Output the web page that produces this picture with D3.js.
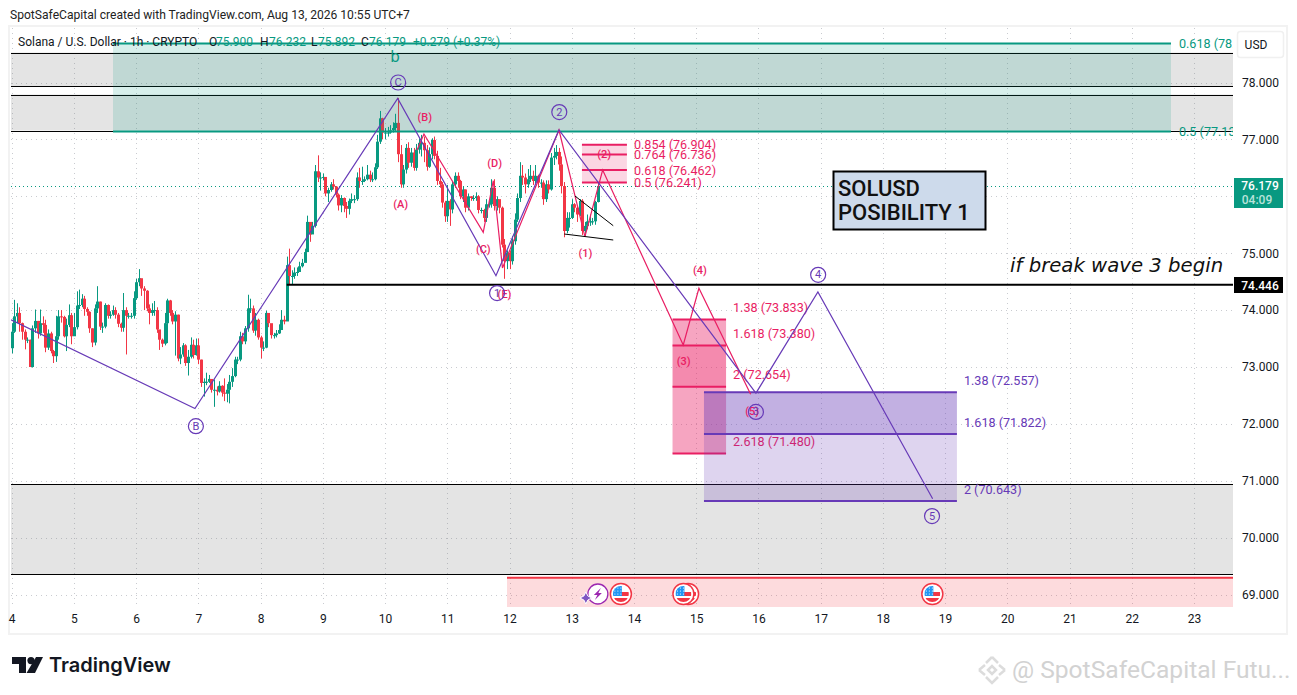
<!DOCTYPE html>
<html>
<head>
<meta charset="utf-8">
<script src="https://cdn.jsdelivr.net/npm/d3@7"></script>
<style>
  html, body { margin: 0; background: #fff; }
  text { font-family: Roboto, sans-serif; }
  .axis text { fill: #131722; font-size: 12px; font-family: Roboto, sans-serif; }
</style>
</head>
<body>
<div id="chart"></div>
<script>
// tick labels
var dayTicks = [4, 5, 6, 7, 8, 9, 10, 11, 12, 13, 14, 15, 16, 17, 18, 19, 20, 21, 22, 23];
var priceGrid = [69, 70, 71, 72, 73, 74, 75, 76, 77, 78];
var priceTicks = [69, 70, 71, 72, 73, 74, 75, 77, 78];

// hourly candles, one row per day. open = previous close
var firstOpen = 73.33;
var closes = [
  73.62,73.89,73.95,73.77,73.62,73.48,73.48,73.00,73.68,73.81,73.59,73.77,73.74,73.34,73.59,73.28,73.19,73.54,73.89,73.88,73.54,73.74,73.91,73.54,
  73.70,74.08,74.09,74.20,74.02,73.97,73.68,73.43,74.03,74.15,73.71,73.71,74.09,73.90,73.92,74.00,73.92,73.76,73.69,74.00,73.90,73.90,73.90,74.21,
  74.49,74.56,74.38,74.34,74.03,73.95,74.00,74.00,73.66,73.48,73.41,73.77,74.17,73.95,73.80,73.92,73.15,73.22,73.38,73.07,73.18,73.39,73.21,73.38,
  73.13,72.72,72.74,72.74,72.79,72.60,72.60,72.57,72.67,72.55,72.53,72.60,72.74,72.84,73.13,73.13,73.54,73.45,73.68,74.03,74.03,73.64,73.83,73.52,
  73.34,73.34,73.95,73.77,73.56,73.56,73.59,73.65,73.83,73.80,74.79,74.60,74.60,74.66,74.67,74.77,74.83,75.02,75.55,75.33,75.48,76.44,76.33,76.33,
  76.34,76.05,76.11,76.21,76.17,76.03,75.84,75.97,75.83,75.78,75.92,75.95,75.95,76.33,76.27,76.27,76.30,76.38,76.30,76.30,76.51,76.96,77.37,77.12,
  77.12,77.12,77.16,77.20,77.29,76.74,76.21,76.47,76.85,76.59,76.77,76.50,76.82,76.94,76.94,76.81,76.52,76.74,76.99,76.71,76.27,76.21,75.89,75.65,
  75.92,75.77,76.21,76.36,76.27,76.00,76.12,75.80,76.00,75.97,75.97,76.00,75.76,75.76,75.62,75.86,75.86,76.15,75.83,75.95,75.80,75.15,74.86,75.01,
  74.86,75.21,75.59,75.97,76.36,76.33,76.21,76.30,76.36,76.27,76.36,76.24,76.24,75.95,76.21,76.12,76.68,76.71,76.78,76.56,76.18,75.39,75.62,75.62,
  75.86,75.80,75.68,75.92,75.39,75.48,75.56,75.56,75.56,75.90,76.179
];
var highs = [
  73.77,74.18,74.12,74.05,73.78,73.66,73.52,73.48,73.73,74.01,73.81,74.01,73.89,73.83,73.66,73.62,73.30,73.90,74.00,74.00,73.90,73.85,74.10,73.95,
  73.95,74.33,74.36,74.28,74.25,74.05,73.98,73.68,74.10,74.42,74.15,73.78,74.12,74.10,73.98,74.08,74.05,73.95,73.78,74.30,74.05,73.95,73.95,74.33,
  74.55,74.72,74.55,74.42,74.35,74.10,74.12,74.16,74.05,73.62,73.50,73.95,74.20,74.18,74.00,73.98,73.92,73.35,73.42,73.40,73.30,73.52,73.48,73.50,
  73.50,73.13,72.80,72.90,72.86,72.78,72.78,72.66,72.75,72.68,72.80,72.70,72.86,72.98,73.18,73.18,73.62,73.60,73.72,74.27,74.20,74.08,73.95,73.85,
  73.55,73.45,73.99,73.90,73.75,73.60,73.65,73.75,74.00,73.90,74.94,75.08,74.70,74.75,74.75,74.85,74.90,75.08,75.66,75.45,75.55,76.55,76.72,76.42,
  76.40,76.33,76.15,76.25,76.30,76.18,76.05,76.02,75.98,75.90,75.96,76.05,76.02,76.42,76.50,76.52,76.35,76.55,76.45,76.42,76.58,77.08,77.50,77.38,
  77.20,77.22,77.25,77.30,77.45,77.73,76.90,76.55,76.92,76.95,76.85,76.85,76.92,77.02,77.08,77.05,76.90,76.86,77.02,77.05,76.80,76.50,76.25,75.92,
  76.20,75.95,76.27,76.42,76.42,76.29,76.18,76.12,76.05,76.00,76.02,76.07,76.02,75.80,75.78,75.95,75.92,76.30,76.30,76.00,75.90,75.82,75.25,75.05,
  75.05,75.30,75.70,76.05,76.60,76.55,76.40,76.48,76.55,76.45,76.55,76.38,76.30,76.28,76.28,76.28,76.76,76.85,76.90,76.85,76.70,76.25,75.72,75.72,
  75.95,75.88,75.82,75.95,75.95,75.55,75.68,75.68,75.62,75.92,76.232
];
var lows = [
  73.24,73.60,73.77,73.62,73.48,73.31,73.42,73.00,72.99,73.60,73.50,73.55,73.60,73.26,73.30,73.24,73.07,73.09,73.48,73.78,73.52,73.28,73.70,73.40,
  73.65,73.66,74.02,74.05,73.90,73.90,73.60,73.35,73.38,73.95,73.65,73.60,73.68,73.85,73.85,73.90,73.85,73.70,73.62,73.62,73.22,73.85,73.85,73.85,
  74.18,74.42,74.25,74.00,73.98,73.75,73.90,73.90,73.60,73.30,73.35,73.38,73.42,73.90,73.75,73.20,73.10,73.05,73.18,73.02,72.85,73.15,73.15,73.20,
  73.05,72.65,72.48,72.68,72.72,72.55,72.30,72.50,72.55,72.48,72.40,72.38,72.36,72.65,72.82,73.05,73.10,73.40,73.40,73.62,73.95,73.60,73.55,73.48,
  73.15,73.28,73.33,73.70,73.50,73.50,73.52,73.58,73.78,73.75,74.44,74.45,74.45,74.55,74.60,74.70,74.75,74.95,75.02,75.20,75.40,75.45,76.25,76.10,
  76.28,76.00,75.90,76.08,76.12,75.98,75.75,75.72,75.72,75.62,75.68,75.88,75.88,75.92,76.15,76.20,76.25,76.28,76.25,76.25,76.28,76.48,76.92,77.00,
  77.00,77.05,77.10,77.12,77.15,76.60,76.15,76.15,76.40,76.50,76.52,76.45,76.45,76.75,76.70,76.60,76.45,76.50,76.65,76.65,76.20,76.15,75.80,75.55,
  75.55,75.48,75.70,76.15,76.15,75.95,75.90,75.72,75.75,75.92,75.92,75.92,75.70,75.70,75.55,75.55,75.80,75.80,75.75,75.75,75.70,75.10,74.55,74.72,
  74.72,74.80,75.15,75.55,75.90,76.20,76.05,76.15,76.25,76.20,76.22,76.15,76.15,75.85,75.90,76.05,76.10,76.55,76.65,76.45,76.05,75.28,75.35,75.45,
  75.60,75.72,75.55,75.65,75.32,75.30,75.42,75.48,75.50,75.50,75.892
];

// price levels
var lastPrice = 76.179;
var breakLevel = 74.446;
var greyZones = [[77.156, 77.789], [77.93, 78.527], [69.355, 70.937]];

// drawings as [day, price]
var purpleWave = [[3.99,73.83],[6.945,72.27],[10.203,77.72],[11.782,74.605],[12.795,77.165],[15.96,72.54],[16.956,74.32],[18.80,70.685]];
var pinkWave = [[10.513,76.81],[10.625,77.095],[11.578,75.367],[11.739,76.274],[11.887,74.74],[12.795,77.165],[13.212,75.29],[13.497,76.462],[14.792,73.387],[15.044,74.383],[15.875,72.52]];
var wedgeTop = [[13.052,76.005],[13.667,75.483]];
var wedgeBottom = [[12.88,75.337],[13.667,75.232]];

var pinkLabels = ["(A)", "(B)", "(C)", "(D)", "(E)", "(1)", "(2)", "(3)", "(4)", "(5)"];
var pinkLabelPos = [[10.25,75.86],[10.64,77.39],[11.58,75.06],[11.76,76.57],[11.92,74.27],[13.22,75.0],[13.52,76.74],[14.80,73.09],[15.06,74.69],[15.90,72.21]];
var circleLabels = ["C", "B", "1", "2", "3", "4", "5"];
var circlePos = [[10.21,78.0],[6.96,71.96],[11.80,74.30],[12.80,77.48],[15.96,72.21],[16.96,74.62],[18.79,70.38]];

// fib boxes: first/last day, level values
var fibPinkTop = { x: [13.164, 13.887], levels: [0.854, 0.764, 0.618, 0.5], prices: [76.904, 76.736, 76.462, 76.241] };
var fibPinkLow = { x: [14.62, 15.48], levels: ["1.38", "1.618", "2", "2.618"], prices: [73.833, 73.38, 72.654, 71.48] };
var fibPurple = { x: [15.125, 19.19], levels: ["1.38", "1.618", "2"], prices: [72.557, 71.822, 70.643] };
var fibTeal = { x: [5.628, 22.63], levels: ["0.618", "0.5"], prices: [78.685, 77.139] };
var supportZone = { x: [11.96, 23.7], prices: [69.297, 68.7] };

// news markers
var flagDays = [14.87, 14.795, 13.79, 18.795];
var boltDay = 13.42;

var svgWidth = 1297, svgHeight = 695;
var plot = { left: 11, right: 1233, top: 28, bottom: 607 };
var drawFont = "'DejaVu Sans', sans-serif";
var fibFontSize = 12.6;

var svg = d3.select("#chart").append("svg")
  .attr("width", svgWidth)
  .attr("height", svgHeight)
  .style("display", "block");

var x = d3.scaleLinear().domain([4, 23]).range([11.7, 1194]);
var y = d3.scaleLinear().domain([69, 78]).range([594.6, 82.5]);
var line = d3.line().x(d => x(d[0])).y(d => y(d[1]));

var defs = svg.append("defs");
defs.append("clipPath").attr("id", "plotClip").append("rect")
  .attr("x", plot.left).attr("y", plot.top)
  .attr("width", plot.right - plot.left).attr("height", plot.bottom - plot.top);

// header
svg.append("text").attr("x", 10).attr("y", 19).attr("font-size", 12.1).attr("fill", "#222").text("SpotSafeCapital created with TradingView.com, Aug 13, 2026 10:55 UTC+7");

// outer frame
svg.append("rect").attr("x", 9).attr("y", 26).attr("width", 1278).attr("height", 608)
  .attr("fill", "none").attr("stroke", "#f2f2f2").attr("stroke-width", 2);

var g = svg.append("g").attr("clip-path", "url(#plotClip)");

// grid
g.selectAll(".gridY").data(priceGrid).enter().append("line")
  .attr("x1", plot.left).attr("x2", plot.right)
  .attr("y1", d => Math.round(y(d)) + 0.5).attr("y2", d => Math.round(y(d)) + 0.5)
  .attr("stroke", "#c9cbd0").attr("stroke-dasharray", "1,4");
g.selectAll(".gridX").data(dayTicks).enter().append("line")
  .attr("y1", plot.top).attr("y2", plot.bottom)
  .attr("x1", d => Math.round(x(d)) + 0.5).attr("x2", d => Math.round(x(d)) + 0.5)
  .attr("stroke", "#c9cbd0").attr("stroke-dasharray", "1,4");

// grey rectangles with black edges
g.selectAll(".zone").data(greyZones).enter().append("rect")
  .attr("x", plot.left).attr("width", plot.right - plot.left)
  .attr("y", d => y(d[1])).attr("height", d => y(d[0]) - y(d[1]))
  .attr("fill", "rgba(120,120,120,0.2)");
greyZones.forEach(function (z) {
  z.forEach(function (p) {
    g.append("line").attr("x1", plot.left).attr("x2", plot.right)
      .attr("y1", Math.round(y(p)) + 0.5).attr("y2", Math.round(y(p)) + 0.5)
      .attr("stroke", "#000").attr("stroke-width", 1.2);
  });
});

// support zone at the bottom
g.append("rect").attr("x", x(supportZone.x[0])).attr("width", x(supportZone.x[1]) - x(supportZone.x[0]))
  .attr("y", y(supportZone.prices[0])).attr("height", y(supportZone.prices[1]) - y(supportZone.prices[0]))
  .attr("fill", "rgba(242,54,69,0.18)");
g.append("line").attr("x1", x(supportZone.x[0])).attr("x2", x(supportZone.x[1]))
  .attr("y1", y(supportZone.prices[0])).attr("y2", y(supportZone.prices[0]))
  .attr("stroke", "#f23645").attr("stroke-width", 2);

// last price line
g.append("line").attr("x1", plot.left).attr("x2", plot.right)
  .attr("y1", Math.round(y(lastPrice)) + 0.5).attr("y2", Math.round(y(lastPrice)) + 0.5)
  .attr("stroke", "#089981").attr("stroke-dasharray", "1,3");

// candles
var candles = closes.map(function (c, i) {
  return { day: 4 + i / 24, open: i ? closes[i - 1] : firstOpen, high: highs[i], low: lows[i], close: c };
});
var candleG = g.append("g");
candleG.selectAll(".wick").data(candles).enter().append("line")
  .attr("x1", d => Math.round(x(d.day)) + 0.5).attr("x2", d => Math.round(x(d.day)) + 0.5)
  .attr("y1", d => y(d.high)).attr("y2", d => y(d.low))
  .attr("stroke", d => d.close >= d.open ? "#089981" : "#f23645");
candleG.selectAll(".body").data(candles).enter().append("rect")
  .attr("x", d => Math.round(x(d.day)) - 1).attr("width", 3)
  .attr("y", d => y(Math.max(d.open, d.close)))
  .attr("height", d => Math.max(1, Math.abs(y(d.open) - y(d.close))))
  .attr("fill", d => d.close >= d.open ? "#089981" : "#f23645");

// teal fib box
g.append("rect").attr("x", x(fibTeal.x[0])).attr("width", x(fibTeal.x[1]) - x(fibTeal.x[0]))
  .attr("y", y(fibTeal.prices[0])).attr("height", y(fibTeal.prices[1]) - y(fibTeal.prices[0]))
  .attr("fill", "rgba(8,153,129,0.16)");
fibTeal.prices.forEach(function (p) {
  g.append("line").attr("x1", x(fibTeal.x[0])).attr("x2", x(fibTeal.x[1]))
    .attr("y1", y(p)).attr("y2", y(p)).attr("stroke", "#089981").attr("stroke-width", 2);
});

// fib boxes with levels. bandAlpha is one fill per gap between levels
function drawFib(fib, color, bandAlpha, labelDy) {
  var x0 = x(fib.x[0]), x1 = x(fib.x[1]);
  d3.pairs(fib.prices).forEach(function (pair, i) {
    g.append("rect").attr("x", x0).attr("width", x1 - x0)
      .attr("y", y(pair[0])).attr("height", y(pair[1]) - y(pair[0]))
      .attr("fill", color).attr("fill-opacity", bandAlpha[i]);
  });
  fib.prices.forEach(function (p, i) {
    g.append("line").attr("x1", x0).attr("x2", x1).attr("y1", y(p)).attr("y2", y(p))
      .attr("stroke", color).attr("stroke-width", 2);
    g.append("text").attr("x", x1 + 7).attr("y", y(p) + labelDy)
      .attr("dominant-baseline", "central")
      .attr("font-size", fibFontSize).attr("fill", color)
      .text(fib.levels[i] + " (" + d3.format(".3f")(p) + ")");
  });
}
drawFib(fibPinkLow, "#e91e63", [0.4, 0.52, 0.4], -12);
drawFib(fibPurple, "#673ab7", [0.4, 0.22], -11.5);
drawFib(fibPinkTop, "#e91e63", [0.18, 0.18, 0.18], 0);

// teal labels sit on the box, same font
fibTeal.prices.forEach(function (p, i) {
  g.append("text").attr("x", x(fibTeal.x[1]) + 8).attr("y", y(p))
    .attr("dominant-baseline", "central").attr("font-size", fibFontSize).attr("fill", "#089981")
    .text(fibTeal.levels[i] + " (" + p.toFixed(3) + ")");
});

// 74.446 line
g.append("line").attr("x1", x(8.42)).attr("x2", plot.right)
  .attr("y1", y(breakLevel)).attr("y2", y(breakLevel))
  .attr("stroke", "#000").attr("stroke-width", 2);

// waves
g.append("path").attr("d", line(pinkWave)).attr("fill", "none").attr("stroke", "#e91e63").attr("stroke-width", 1.2);
g.append("path").attr("d", line(purpleWave)).attr("fill", "none").attr("stroke", "#673ab7").attr("stroke-width", 1.2);
[wedgeTop, wedgeBottom].forEach(function (w) {
  g.append("path").attr("d", line(w)).attr("fill", "none").attr("stroke", "#000").attr("stroke-width", 1);
});

// wave labels
g.selectAll(".pinkLabel").data(pinkLabels).enter().append("text")
  .attr("x", (d, i) => x(pinkLabelPos[i][0])).attr("y", (d, i) => y(pinkLabelPos[i][1]))
  .attr("text-anchor", "middle").attr("dominant-baseline", "central")
  .attr("font-size", 11).attr("fill", "#e91e63").attr("font-weight", 500)
  .text(d => d);
var circles = g.selectAll(".circleLabel").data(circleLabels).enter().append("g")
  .attr("transform", (d, i) => `translate(${x(circlePos[i][0])},${y(circlePos[i][1])})`);
circles.append("circle").attr("r", 7.5).attr("fill", "none").attr("stroke", "#673ab7").attr("stroke-width", 1.2);
circles.append("text").attr("text-anchor", "middle").attr("dominant-baseline", "central")
  .attr("font-size", 11).attr("fill", "#673ab7").text(d => d);
g.append("text").attr("x", x(10.16)).attr("y", y(78.44)).attr("text-anchor", "middle").attr("dominant-baseline", "central")
  .attr("font-size", 15).attr("fill", "#089981").style("font-family", drawFont).text("b");

// text boxes
g.append("rect").attr("x", 833.5).attr("y", 171.5).attr("width", 152).attr("height", 58)
  .attr("fill", "#cddaeb").attr("stroke", "#000").attr("stroke-width", 2);
g.append("text").attr("x", 838).attr("y", 196).attr("font-size", 22).attr("font-weight", 500).attr("fill", "#111").text("SOLUSD");
g.append("text").attr("x", 838).attr("y", 220).attr("font-size", 22).attr("font-weight", 500).attr("fill", "#111").text("POSIBILITY 1");
g.append("text").attr("x", 1010).attr("y", 272).attr("font-size", 19.7).attr("font-style", "italic").attr("fill", "#111")
  .style("font-family", drawFont).text("if break wave 3 begin");

// flag markers
function drawFlag(day) {
  var f = g.append("g").attr("transform", `translate(${x(day)},594)`);
  f.append("circle").attr("r", 10.5).attr("fill", "#fff").attr("stroke", "#f23645").attr("stroke-width", 1.5);
  var cid = "flag" + String(day).replace(".", "");
  defs.append("clipPath").attr("id", cid).append("circle").attr("r", 8);
  var inner = f.append("g").attr("clip-path", `url(#${cid})`);
  inner.append("rect").attr("x", -8).attr("y", -8).attr("width", 16).attr("height", 16).attr("fill", "#fff");
  inner.append("rect").attr("x", 0).attr("y", -2).attr("width", 8).attr("height", 4).attr("fill", "#f23645");
  inner.append("rect").attr("x", -8).attr("y", 4).attr("width", 16).attr("height", 4).attr("fill", "#f23645");
  inner.append("rect").attr("x", -8).attr("y", -8).attr("width", 9).attr("height", 10).attr("fill", "#2196f3");
  inner.append("g").selectAll("circle").data(d3.range(9)).enter().append("circle")
    .attr("cx", d => -6 + (d % 3) * 3).attr("cy", d => -6 + Math.floor(d / 3) * 3).attr("r", 0.6).attr("fill", "#fff");
}
flagDays.forEach(drawFlag);

var bolt = g.append("g").attr("transform", `translate(${x(boltDay)},594)`);
bolt.append("circle").attr("r", 10).attr("fill", "#fff").attr("stroke", "#9c27b0").attr("stroke-width", 1.3);
bolt.append("path").attr("d", "M3,-6 L-4,1 L-0.5,1 L-3,6 L4,-1 L0.5,-1 Z").attr("fill", "#9c27b0");
bolt.append("path").attr("d", "M-12,-2 L-10,2 L-6,4 L-10,6 L-12,10 L-14,6 L-18,4 L-14,2 Z")
  .attr("fill", "#7e57c2").attr("stroke", "#fff").attr("stroke-width", 1);

// legend, each part placed where the reference has it
var legendParts = [
  [18, "Solana / U.S. Dollar · 1h · CRYPTO", "#131722"],
  [209, "O", "#131722"], [216, "75.900", "#089981"],
  [260, "H", "#131722"], [269, "76.232", "#089981"],
  [311, "L", "#131722"], [318, "75.892", "#089981"],
  [361, "C", "#131722"], [369, "76.179", "#089981"],
  [413, "+0.279 (+0.37%)", "#089981"]
];
svg.selectAll(".legendPart").data(legendParts).enter().append("text")
  .attr("x", d => d[0]).attr("y", 46).attr("font-size", 12).attr("fill", d => d[2]).text(d => d[1]);

// axes
var yAxis = svg.append("g").attr("class", "axis")
  .attr("transform", `translate(1238,0)`)
  .call(d3.axisRight(y).tickValues(priceTicks).tickFormat(d3.format(".3f")).tickSize(0).tickPadding(4));
yAxis.select(".domain").remove();
var xAxis = svg.append("g").attr("class", "axis")
  .attr("transform", `translate(0,614)`)
  .call(d3.axisBottom(x).tickValues(dayTicks).tickFormat(d3.format("d")).tickSize(0).tickPadding(0));
xAxis.select(".domain").remove();

// USD box and price badges
svg.append("rect").attr("x", 1237.5).attr("y", 31.5).attr("width", 46).attr("height", 26).attr("rx", 3)
  .attr("fill", "#fff").attr("stroke", "#f0f0f0").attr("stroke-width", 1.5);
svg.append("text").attr("x", 1256).attr("y", 49).attr("text-anchor", "middle").attr("font-size", 12).attr("fill", "#131722").text("USD");
svg.append("rect").attr("x", 1234).attr("y", 178).attr("width", 49).attr("height", 30).attr("fill", "#089981");
svg.append("text").attr("x", 1260).attr("y", 190).attr("text-anchor", "middle").attr("font-size", 12).attr("font-weight", 500).attr("fill", "#fff").text(lastPrice.toFixed(3));
svg.append("text").attr("x", 1257).attr("y", 204).attr("text-anchor", "middle").attr("font-size", 12).attr("font-weight", 500).attr("fill", "#b9e3da").text("04:09");
svg.append("rect").attr("x", 1234).attr("y", 277).attr("width", 49).attr("height", 16).attr("fill", "#000");
svg.append("text").attr("x", 1260).attr("y", 289.5).attr("text-anchor", "middle").attr("font-size", 12).attr("font-weight", 500).attr("fill", "#fff").text(breakLevel.toFixed(3));

// TradingView logo
var logo = svg.append("g").attr("transform", "translate(12,657)").attr("fill", "#131722");
logo.append("path").attr("d", "M0,0 H14 V16 H7 V7 H0 Z");
logo.append("circle").attr("cx", 19).attr("cy", 3.6).attr("r", 3.6);
logo.append("path").attr("d", "M24,0 H31 L23,16 H14.5 Z");
svg.append("text").attr("x", 49).attr("y", 672).attr("font-size", 20).attr("font-weight", 600)
  .style("font-family", "Inter, sans-serif").attr("fill", "#131722").text("TradingView");

// watermark
var mark = svg.append("g").attr("transform", "translate(992,670)").attr("fill", "none").attr("stroke", "#dcdcdc").attr("stroke-width", 2.5);
mark.append("path").attr("d", "M0,-13 L6,-7 M0,-13 L-6,-7 M-13,0 L-7,-5 M-13,0 L-7,5 M13,0 L7,-5 M13,0 L7,5 M-6,7 L0,13 L6,7 M-4,0 L0,-4 L4,0 L0,4 Z");
svg.append("text").attr("x", 1012).attr("y", 678).attr("font-size", 24.6).attr("fill", "#d2d2d2")
  .text("@ SpotSafeCapital Futu...");
</script>
</body>
</html>
